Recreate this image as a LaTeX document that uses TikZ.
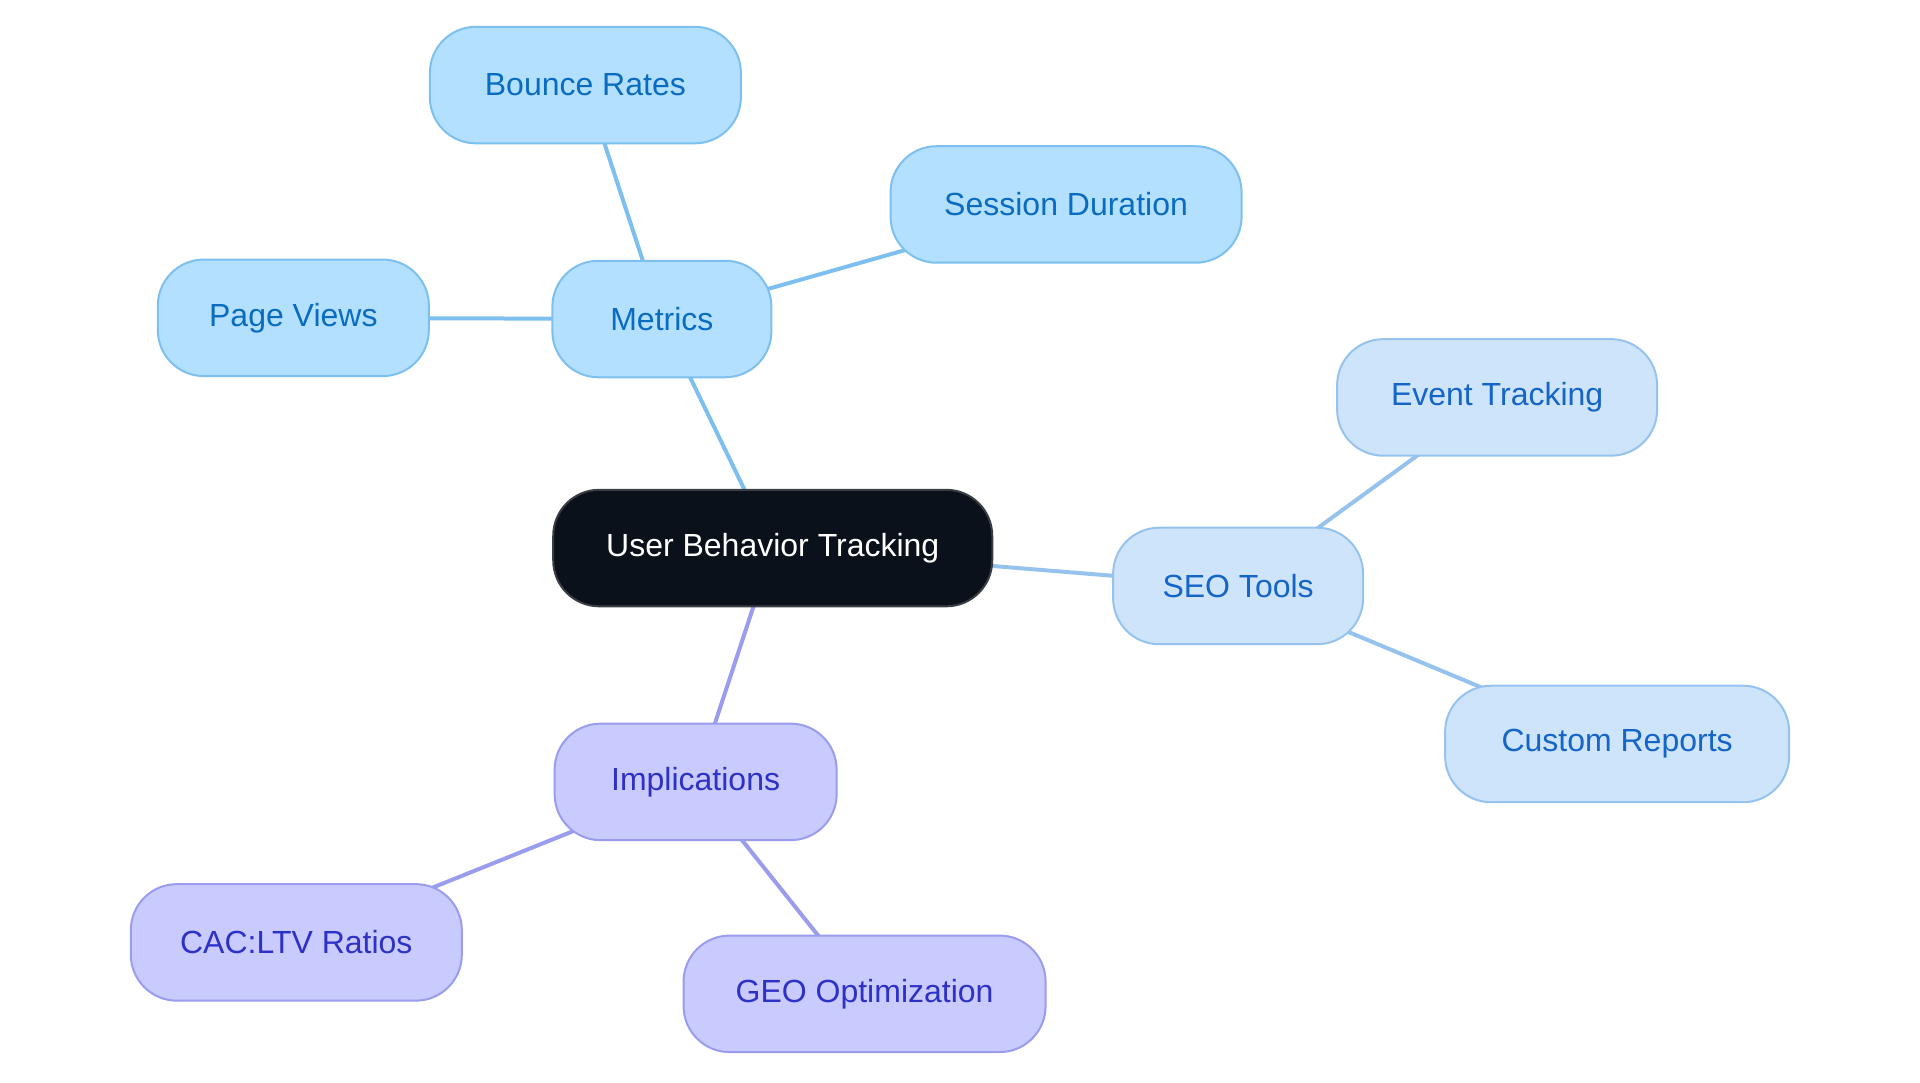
\documentclass[tikz,border=0pt]{standalone}
\usepackage{fontspec}
\setmainfont{Liberation Sans}
\usetikzlibrary{backgrounds}
\definecolor{mfill}{HTML}{B3E0FF}
\definecolor{mdraw}{HTML}{7DC0F0}
\definecolor{mtext}{HTML}{0A6CC0}
\definecolor{sfill}{HTML}{CDE4FB}
\definecolor{sdraw}{HTML}{96C3EE}
\definecolor{stext}{HTML}{1565C8}
\definecolor{ifill}{HTML}{C9CAFE}
\definecolor{idraw}{HTML}{9A9DEE}
\definecolor{itext}{HTML}{2E31C6}
\definecolor{cfill}{HTML}{0B111B}
\definecolor{cdraw}{HTML}{3A3D44}
\tikzset{
  pill/.style={rectangle, rounded corners=46pt, minimum height=116.5pt, line width=2pt,
    inner sep=0pt, font=\fontsize{32}{38}\selectfont},
  mnode/.style={pill, fill=mfill, draw=mdraw, text=mtext},
  snode/.style={pill, fill=sfill, draw=sdraw, text=stext},
  inode/.style={pill, fill=ifill, draw=idraw, text=itext},
  cnode/.style={pill, fill=cfill, draw=cdraw, text=white},
  mline/.style={draw=mdraw, line width=4pt},
  sline/.style={draw=sdraw, line width=4pt},
  iline/.style={draw=idraw, line width=4pt},
}
\begin{document}
\begin{tikzpicture}[x=0.995pt,y=-0.995pt]
\useasboundingbox (0,0) rectangle (1929.6,1088.4);
\node[cnode, minimum width=439pt] (c) at (776.6,550.8) {User Behavior Tracking};
\node[mnode, minimum width=219pt] (m) at (665.2,320.6) {Metrics};
\node[mnode, minimum width=311pt] (br) at (588.3,85.5) {Bounce Rates};
\node[mnode, minimum width=351pt] (sd) at (1071.4,205.5) {Session Duration};
\node[mnode, minimum width=271pt] (pv) at (294.8,319.4) {Page Views};
\node[snode, minimum width=250pt] (s) at (1244.3,588.9) {SEO Tools};
\node[snode, minimum width=320pt] (et) at (1504.6,399.4) {Event Tracking};
\node[snode, minimum width=344pt] (cr) at (1625.2,747.7) {Custom Reports};
\node[inode, minimum width=282pt] (i) at (699.1,785.8) {Implications};
\node[inode, minimum width=331pt] (cac) at (297.8,947.1) {CAC:LTV Ratios};
\node[inode, minimum width=362pt] (geo) at (868.9,998.8) {GEO Optimization};
\begin{scope}[on background layer]
\draw[mline] (c.center) -- (m.center);
\draw[mline] (m.center) -- (br.center);
\draw[mline] (m.center) -- (sd.center);
\draw[mline] (m.center) -- (pv.center);
\draw[sline] (c.center) -- (s.center);
\draw[sline] (s.center) -- (et.center);
\draw[sline] (s.center) -- (cr.center);
\draw[iline] (c.center) -- (i.center);
\draw[iline] (i.center) -- (cac.center);
\draw[iline] (i.center) -- (geo.center);
\end{scope}
\end{tikzpicture}
\end{document}
